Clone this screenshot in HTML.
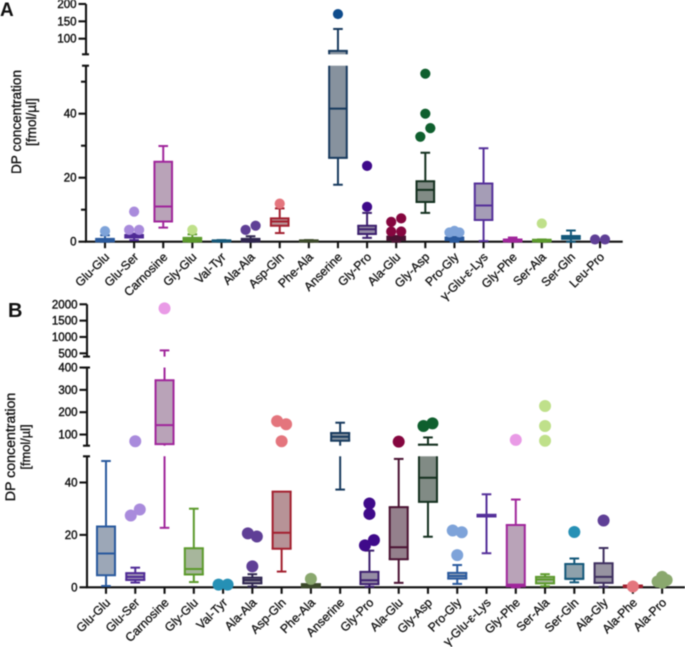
<!DOCTYPE html>
<html lang="en">
<head>
<meta charset="utf-8">
<title>DP concentration box plots</title>
<style>
html,body{margin:0;padding:0;background:#fff;width:685px;height:647px;overflow:hidden}
svg{display:block;filter:blur(0.4px)}
text{font-family:"Liberation Sans",Arial,sans-serif;fill:#111}
.tick{font-size:11.5px;text-anchor:end;stroke:#111;stroke-width:.4px}
.cat{font-size:12.2px;text-anchor:end;stroke:#111;stroke-width:.3px}
.ttl{font-size:13.6px;text-anchor:middle;stroke:#111;stroke-width:.35px}
</style>
</head>
<body>
<svg id="chart" width="685" height="647" viewBox="0 0 685 647" xmlns="http://www.w3.org/2000/svg">
<text x="0" y="16" style="font-size:19px;font-weight:bold">A</text>
<text x="8" y="317" style="font-size:20px;font-weight:bold">B</text>
<text class="ttl" transform="translate(21 122) rotate(-90)">DP concentration</text>
<text class="ttl" transform="translate(36 122) rotate(-90)">[fmol/µl]</text>
<text class="ttl" transform="translate(15 447) rotate(-90)" style="font-size:14.2px">DP concentration</text>
<text class="ttl" transform="translate(30 447) rotate(-90)" style="font-size:12.8px">[fmol/µl]</text>
</svg>
<script>
/* ---------- Panel A data ---------- */
var categoriesA = ["Glu-Glu","Glu-Ser","Carnosine","Gly-Glu","Val-Tyr","Ala-Ala","Asp-Gln","Phe-Ala","Anserine","Gly-Pro","Ala-Glu","Gly-Asp","Pro-Gly","γ-Glu-ε-Lys","Gly-Phe","Ser-Ala","Ser-Gln","Leu-Pro"];
var q1A = [0.1,1.3,6.3,0.1,0.1,0.1,5,0.1,26.2,2.4,0.6,12.4,0.5,6.8,0.1,0.1,0.9,null];
var medianA = [0.4,1.7,11,0.6,0.25,0.4,6.3,0.25,41.6,3.9,1.1,16.2,0.9,11.3,0.4,0.3,1.3,null];
var q3A = [0.9,2.1,25,1.2,0.4,0.9,7.3,0.4,65,5,1.6,18.9,1.3,18.2,0.7,0.6,1.8,null];
var whiskerLowA = [0,0.5,4.4,0,0,0,2.7,0,17.8,1.2,0,9,0,0.2,0,0,0,null];
var whiskerHighA = [2,2.5,29.9,2.3,0.5,1.7,10.4,0.5,128,9,1.8,27.8,1.5,29.2,1.3,0.7,3.5,null];
var outliersA = [[3.3],[3.7,3.7,9.4],[],[3.7],[],[3.7,5],[11.9],[],[171],[10.9,23.7],[3.2,3.2,6.2,7.3],[32.8,35.5,40,52.5],[2.9,2.9,3.4],[],[],[5.7],[],[0.7,0.7]];
var yTicksA = [[0,"0"],[20,"20"],[40,"40"],[100,"100"],[150,"150"],[200,"200"]];
var yMinorTicksA = [10,30,50];

/* ---------- Panel B data ---------- */
var categoriesB = ["Glu-Glu","Glu-Ser","Carnosine","Gly-Glu","Val-Tyr","Ala-Ala","Asp-Gln","Phe-Ala","Anserine","Gly-Pro","Ala-Glu","Gly-Asp","Pro-Gly","γ-Glu-ε-Lys","Gly-Phe","Ser-Ala","Ser-Gln","Ala-Gly","Ala-Phe","Ala-Pro"];
var q1B = [4.6,2.8,57,4.9,null,1.5,14.7,0.1,72,1.2,10.7,32.6,3.3,27,0.4,1.5,3.2,1.7,0.1,null];
var medianB = [12.9,4,142,7,null,2.8,20.8,0.6,90,2.7,15.3,41.8,4.3,27.3,1,3,3.2,4,0.3,null];
var q3B = [23.2,5.4,343,14.9,null,3.7,36.5,1.2,107,5.9,30.6,55,5.5,27.7,23.8,4,8.9,9.2,0.7,null];
var whiskerLowB = [0.5,1.8,22.7,2,null,0.3,6,0,37.3,0.2,1.7,19.3,1.3,13,0,0.4,1.9,0.2,0,null];
var whiskerHighB = [48.2,7.5,590,30,null,5,36.5,1.2,153,14,49,87,8.5,35.5,33.5,5,11,15,0.7,null];
var outliersB = [[],[27.4,29.7,70],[1875],[],[1,1],[20.6,19.4,8],[70,160,146],[3.2],[],[16,18,28,32],[68],[138,150],[21.7,21,12.3],[],[76],[72,138,228],[21.1],[25.5],[0.3],[2.2,2.8,4,1.8]];
var yTicksB = [[0,"0"],[20,"20"],[40,"40"],[100,"100"],[200,"200"],[300,"300"],[400,"400"],[500,"500"],[1000,"1000"],[1500,"1500"],[2000,"2000"]];
var yMinorTicksB = [];

/* ---------- Palette (style only) ---------- */
var strokePaletteA = ["#2a5a9e","#4f2a96","#a0269b","#5c9a2c","#14587a","#2f2650","#a3202f","#3c4a2a","#173a5e","#3c1f6e","#4a1232","#14301f","#2a5a9e","#55309a","#a0269b","#5c9a2c","#14587a","#5f3f96"];
var dotPaletteA = ["#7ea3d9","#a98bdc","#e99ae6","#bfe08a","#2690b5","#5f3f96","#e4757d","#8aa86e","#0f4c8c","#3f0a8a","#85063f","#0f5f2e","#7ea3d9","#a98bdc","#e99ae6","#bfe08a","#2690b5","#5f3f96"];
var strokePaletteB = ["#2a5a9e","#4f2a96","#a0269b","#5c9a2c","#14587a","#2f2650","#a3202f","#3c4a2a","#173a5e","#3c1f6e","#4a1232","#14301f","#2a5a9e","#55309a","#a0269b","#5c9a2c","#14587a","#3f3060","#a3202f","#3c4a2a"];
var dotPaletteB = ["#7ea3d9","#a98bdc","#e99ae6","#bfe08a","#2690b5","#5f3f96","#e4757d","#8aa86e","#0f4c8c","#3f0a8a","#85063f","#0f5f2e","#7ea3d9","#a98bdc","#e99ae6","#bfe08a","#2690b5","#5f3f96","#e4757d","#8aa86e"];

var svg = document.getElementById('chart');
var NS = 'http://www.w3.org/2000/svg';

function mk(parent, tag, attrs, name) {
  var el = document.createElementNS(NS, tag);
  for (var k in attrs) el.setAttribute(k, attrs[k]);
  
  
  parent.appendChild(el);
  return el;
}
function slug(s) {
  return s.toLowerCase().replace(/[^a-z]+/g, '-');
}
function boxFill(hex) {
  var rgb = [1, 3, 5].map(function (i) { return parseInt(hex.substr(i, 2), 16); });
  var lum = (rgb[0] + rgb[1] + rgb[2]) / 3;
  var m = Math.max(0.18, Math.min(0.36, 0.38 - (lum - 40) * 0.0026));
  var base = 190, out = '#';
  rgb.forEach(function (v) {
    var c = Math.round(v * m + base * (1 - m));
    out += ('0' + c.toString(16)).slice(-2);
  });
  return out;
}

function drawPanel(cfg) {
  var g = mk(svg, 'g', {}, cfg.id + '-plot');
  var segs = cfg.segments;
  function segFor(v) {
    for (var i = 0; i < segs.length; i++) if (v <= segs[i].hi) return segs[i];
    return segs[segs.length - 1];
  }
  function yOf(v, s) {
    s = s || segFor(v);
    return s.y0 - (v - s.lo) * s.k;
  }
  function xOf(i) { return cfg.x0 + i * cfg.dx; }

  /* axes */
  var ax = mk(g, 'g', {stroke:'#111', 'stroke-width':2.1, fill:'none'}, cfg.id + '-axes');
  segs.forEach(function (s, n) {
    mk(ax, 'line', {x1:cfg.axisX, x2:cfg.axisX, y1:yOf(s.lo, s), y2:yOf(s.hi, s)}, cfg.id + '-y-axis-segment');
  });
  mk(ax, 'line', {x1:cfg.axisX - 1, x2:cfg.axisEnd, y1:segs[0].y0, y2:segs[0].y0}, cfg.id + '-x-axis');
  cfg.ticks.forEach(function (t) {
    var y = yOf(t[0]);
    mk(ax, 'line', {x1:cfg.axisX - 7.5, x2:cfg.axisX, y1:y, y2:y}, cfg.id + '-y-tick');
    var lab = mk(g, 'text', {x:cfg.axisX - 9.5, y:y + 4, 'class':'tick'}, cfg.id + '-y-tick-label');
    lab.textContent = t[1];
  });
  cfg.minor.forEach(function (v) {
    var y = yOf(v);
    mk(ax, 'line', {x1:cfg.axisX - 5, x2:cfg.axisX, y1:y, y2:y}, cfg.id + '-y-minor-tick');
  });
  segs.forEach(function (s, n) {
    if (n < segs.length - 1) {
      mk(ax, 'line', {x1:cfg.axisX - 4, x2:cfg.axisX + 3, y1:yOf(s.hi, s), y2:yOf(s.hi, s)}, cfg.id + '-axis-break-cap');
      var nx = segs[n + 1];
      mk(ax, 'line', {x1:cfg.axisX - 4, x2:cfg.axisX + 3, y1:yOf(nx.lo, nx), y2:yOf(nx.lo, nx)}, cfg.id + '-axis-break-cap');
    }
  });

  /* categories */
  cfg.categories.forEach(function (name, i) {
    var x = xOf(i), base = segs[0].y0;
    mk(ax, 'line', {x1:x, x2:x, y1:base, y2:base + 6.5}, cfg.id + '-x-tick');
    var t = mk(g, 'text', {'class':'cat', transform:'translate(' + (x + 5) + ' ' + (base + 16) + ') rotate(-45)'}, cfg.id + '-x-label-' + slug(name));
    t.textContent = name;

    var col = cfg.strokes[i];
    var mark = mk(g, 'g', {stroke:col, 'stroke-width':2, fill:'none'}, cfg.id + '-box-' + slug(name));
    var q1 = cfg.q1[i], q3 = cfg.q3[i], med = cfg.median[i], lo = cfg.low[i], hi = cfg.high[i];
    var w = cfg.boxW / 2;
    if (q1 !== null) {
      /* whiskers, split across axis segments */
      segs.forEach(function (s) {
        var a = Math.max(lo, s.lo), b = Math.min(q1, s.hi);
        if (b > a) mk(mark, 'line', {x1:x, x2:x, y1:yOf(a, s), y2:yOf(b, s)}, 'lower-whisker');
        a = Math.max(q3, s.lo); b = Math.min(hi, s.hi);
        if (b > a) mk(mark, 'line', {x1:x, x2:x, y1:yOf(a, s), y2:yOf(b, s)}, 'upper-whisker');
      });
      if (lo < q1) mk(mark, 'line', {x1:x - 4.8, x2:x + 4.8, y1:yOf(lo), y2:yOf(lo)}, 'lower-whisker-cap');
      if (hi > q3) mk(mark, 'line', {x1:x - 4.8, x2:x + 4.8, y1:yOf(hi), y2:yOf(hi)}, 'upper-whisker-cap');
      /* box body, split across axis segments */
      segs.forEach(function (s) {
        var a = Math.max(q1, s.lo), b = Math.min(q3, s.hi);
        if (b <= a) return;
        var yb = yOf(a, s), yt = yOf(b, s);
        mk(mark, 'rect', {x:x - w, y:yt, width:2 * w, height:yb - yt, fill:boxFill(col), stroke:'none'}, 'box-fill');
        mk(mark, 'line', {x1:x - w, x2:x - w, y1:yb, y2:yt}, 'box-side');
        mk(mark, 'line', {x1:x + w, x2:x + w, y1:yb, y2:yt}, 'box-side');
      });
      mk(mark, 'line', {x1:x - w - 1, x2:x + w + 1, y1:yOf(q1), y2:yOf(q1)}, 'box-q1');
      mk(mark, 'line', {x1:x - w - 1, x2:x + w + 1, y1:yOf(q3), y2:yOf(q3)}, 'box-q3');
      mk(mark, 'line', {x1:x - w, x2:x + w, y1:yOf(med), y2:yOf(med)}, 'box-median');
    }
    /* outliers: overlapping neighbours are nudged sideways */
    var list = cfg.outliers[i], run = 0;
    list.forEach(function (v, j) {
      if (j > 0 && Math.abs(yOf(v) - yOf(list[j - 1])) < cfg.overlap) run++; else run = 0;
      var clustered = run > 0 || (j + 1 < list.length && Math.abs(yOf(list[j + 1]) - yOf(v)) < cfg.overlap);
      var off = 0;
      if (clustered && run === 0) off = -cfg.nudge;
      if (clustered && run === 1) off = cfg.nudge;
      mk(g, 'circle', {cx:x + off, cy:yOf(v), r:cfg.dotR, fill:cfg.dots[i]}, cfg.id + '-outlier-' + slug(name));
    });
  });
}

drawPanel({
  id:'panel-a', x0:105, dx:29.12, axisX:86, axisEnd:622.7, boxW:17.6, dotR:5.1, nudge:5, overlap:9,
  segments:[{lo:0, hi:55, y0:241.7, k:3.2},{lo:55, hi:200, y0:54.3, k:0.347}],
  categories:categoriesA, q1:q1A, median:medianA, q3:q3A, low:whiskerLowA, high:whiskerHighA, outliers:outliersA,
  strokes:strokePaletteA, dots:dotPaletteA, ticks:yTicksA, minor:yMinorTicksA
});
drawPanel({
  id:'panel-b', x0:106, dx:29.27, axisX:87, axisEnd:685, boxW:18, dotR:6, nudge:4.5, overlap:10,
  segments:[{lo:0, hi:50, y0:587.3, k:2.62},{lo:50, hi:400, y0:445.7, k:0.2233},{lo:400, hi:2000, y0:356.6, k:0.0327}],
  categories:categoriesB, q1:q1B, median:medianB, q3:q3B, low:whiskerLowB, high:whiskerHighB, outliers:outliersB,
  strokes:strokePaletteB, dots:dotPaletteB, ticks:yTicksB, minor:yMinorTicksB
});
</script>
</body>
</html>
